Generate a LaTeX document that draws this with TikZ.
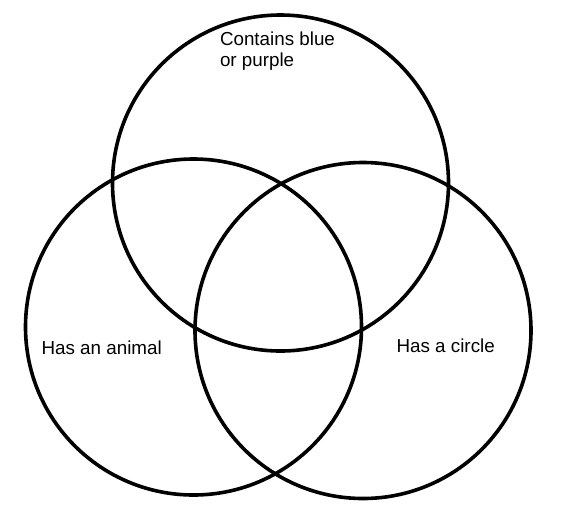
\documentclass[tikz,border=0pt]{standalone}
\usepackage{fontspec}
\setmainfont{Liberation Sans}
\begin{document}
\begin{tikzpicture}[x=1pt,y=-1pt,
  ring/.style={draw=black,line width=3.6pt},
  lbl/.style={inner sep=0pt,outer sep=0pt,text=black,font=\fontsize{18.8}{21}\selectfont,align=left}]
\useasboundingbox[fill=white] (0,0) rectangle (568,528);
\coordinate (ctop) at (280.5,183);
\coordinate (cleft) at (193.5,327);
\coordinate (cright) at (363,330.5);
\draw[ring] (ctop) circle[radius=168];
\draw[ring] (cleft) circle[radius=168];
\draw[ring] (cright) circle[radius=168];
\node[lbl,anchor=base west] (blue) at (220,66.7) {Contains blue\\or purple};
\node[lbl,anchor=base west] (animal) at (41.6,354) {Has an animal};
\node[lbl,anchor=base west] (circ) at (396.6,352.3) {Has a circle};
\end{tikzpicture}
\end{document}
